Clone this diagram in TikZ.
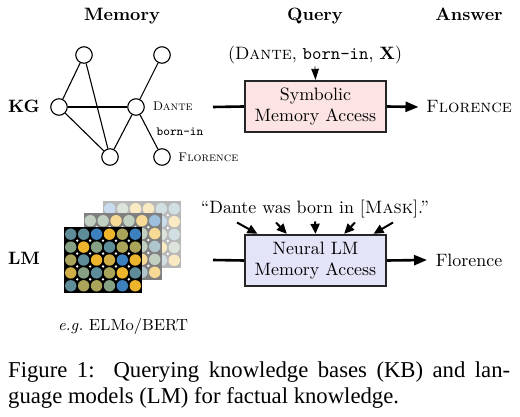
\documentclass[tikz,border=0pt]{standalone}
\usepackage{fontspec}
\usepackage{graphicx}
\newfontfamily\capfont{Liberation Serif}
\usetikzlibrary{arrows.meta,calc}
\definecolor{tl}{HTML}{5E8C99}
\definecolor{bl}{HTML}{3C80BE}
\definecolor{ye}{HTML}{EDB52C}
\definecolor{ol}{HTML}{A9A45A}
\definecolor{sg}{HTML}{85A083}
\definecolor{oy}{HTML}{D0AE45}
\definecolor{symfill}{HTML}{FCE4E4}
\definecolor{neufill}{HTML}{E4E4F9}
\newcommand\lmgrid[4]{%
  \fill[black!#3!white] (#1pt,-#2pt) rectangle ++(78pt,-66pt);
  \foreach \c [count=\k from 0] in {#4} {
    \pgfmathtruncatemacro\gi{mod(\k,6)}
    \pgfmathtruncatemacro\gj{div(\k,6)}
    \fill[\c!#3!white] ({#1pt+6.75pt+12.9pt*\gi},{-#2pt-7.2pt-12.9pt*\gj}) circle[radius=5.7pt];
  }
  \foreach \gi in {0,...,4} {
    \foreach \gj in {0,...,3} {
      \fill[white] ({#1pt+13.2pt+12.9pt*\gi},{-#2pt-13.65pt-12.9pt*\gj}) circle[radius=1.3pt];
    }
  }
}
\tikzset{
  txt/.style={scale=1.79, inner sep=0pt},
  head/.style={txt, font=\bfseries, anchor=base},
  gnode/.style={circle, draw, line width=1.1pt, minimum size=16.5pt, inner sep=0pt},
  gedge/.style={line width=1.1pt},
  membox/.style={draw=black!85, line width=1.3pt, scale=1.79, minimum width=78.77pt, minimum height=28.49pt, align=center, inner sep=0pt},
  thickline/.style={line width=2.6pt},
  outarrow/.style={line width=2.6pt, -{Triangle[width=10pt,length=13pt]}},
  qarrow/.style={line width=0.8pt, -{Triangle[width=7.5pt,length=11pt]}},
  larrow/.style={line width=2pt, -{Triangle[width=9pt,length=10pt]}},
}
\begin{document}
\begin{tikzpicture}[x=1pt,y=-1pt]
\useasboundingbox (0,0) rectangle (520,417);
% headings
\node[head] (hmem) at (122,20.7) {Memory};
\node[head] (hqry) at (315,20.7) {Query};
\node[head] (hans) at (469,20.7) {Answer};
\node[head] (kg) at (24,112.7) {KG};
\node[head] (lm) at (24,265) {LM};
% knowledge graph
\node[gnode] (ga) at (84,55) {};
\node[gnode] (gb) at (162,55) {};
\node[gnode] (gc) at (59,107) {};
\node[gnode] (gd) at (136,107) {};
\node[gnode] (ge) at (110,157) {};
\node[gnode] (gf) at (162,157) {};
\draw[gedge] (ga) -- (gc);
\draw[gedge] (ga) -- (ge);
\draw[gedge] (gc) -- (gd);
\draw[gedge] (gc) -- (ge);
\draw[gedge] (gd) -- (ge);
\draw[gedge] (gd) -- (gb);
\draw[gedge] (gd) -- (gf);
\node[txt, anchor=base west, font=\scriptsize] (ldante) at (152.5,110.7) {\textsc{Dante}};
\node[txt, anchor=base, font=\scriptsize] (lborn) at (180,136) {\texttt{born-in}};
\node[txt, anchor=base west, font=\scriptsize] (lflor) at (178,161.3) {\textsc{Florence}};
% symbolic row
\node[membox, fill=symfill] (sym) at (315.5,106.5) {Symbolic\\Memory Access};
\node[txt, anchor=base] (query) at (315,60) {(\textsc{Dante}, \texttt{born-in}, \textbf{X})};
\coordinate (kgin) at (213,107);
\coordinate (kgout) at (418.5,107);
\draw[thickline] (kgin) -- (sym.west);
\draw[outarrow] (sym.east) -- (kgout);
\draw[qarrow] (query.south |- 0,66.5) -- (sym.north);
\node[txt, anchor=base] (ans1) at (469,112.7) {\textsc{Florence}};
% LM row
\lmgrid{103}{201.5}{28}{bl,sg,ye,ye,tl,tl,sg,tl,sg,ol,bl,ye,ol,bl,ye,tl,sg,tl,ye,sg,tl,ol,ye,sg,sg,ol,bl,sg,tl,ye}
\lmgrid{83.5}{213.5}{50}{sg,sg,ye,sg,ye,bl,tl,ol,sg,ye,sg,ye,ol,bl,ye,tl,sg,tl,ye,sg,tl,ol,ye,sg,sg,ol,bl,sg,tl,ye}
\lmgrid{64}{227}{100}{tl,tl,bl,ye,ol,bl,sg,ye,sg,tl,ol,ol,ol,tl,ye,oy,bl,ye,oy,sg,tl,ol,ye,tl,tl,ol,ol,sg,bl,ye}
\node[txt, anchor=base, font=\small] (elmo) at (123,330.7) {\textit{e.g.}\ ELMo/BERT};
\node[membox, fill=neufill] (neu) at (315.5,260.5) {Neural LM\\Memory Access};
\node[txt, anchor=base] (quote) at (315,213.3) {``Dante was born in [\textsc{Mask}].''};
\coordinate (lmin) at (213,260);
\coordinate (lmout) at (427,260);
\draw[thickline] (lmin) -- (neu.west);
\draw[outarrow] (neu.east) -- (lmout);
\coordinate (s1) at (237,222.5);
\coordinate (s2) at (276,222.5);
\coordinate (s3) at (315,221.5);
\coordinate (s4) at (355,222.5);
\coordinate (s5) at (393,222.5);
\draw[larrow] (s1) -- ($(neu.north west)!0.095!(neu.north east)$);
\draw[larrow] (s2) -- ($(neu.north west)!0.3!(neu.north east)$);
\draw[larrow] (s3) -- ($(neu.north west)!0.5!(neu.north east)$);
\draw[larrow] (s4) -- ($(neu.north west)!0.7!(neu.north east)$);
\draw[larrow] (s5) -- ($(neu.north west)!0.905!(neu.north east)$);
\node[txt, anchor=base] (ans2) at (469,266) {Florence};
% caption
\node[anchor=base west, inner sep=0pt, font=\capfont\fontsize{22.7}{26}\selectfont] (cap1) at (8,377) {\makebox[502pt][s]{Figure 1:\ \ Querying knowledge bases (KB) and lan-}};
\node[anchor=base west, inner sep=0pt, font=\capfont\fontsize{22.7}{26}\selectfont] (cap2) at (8,403) {guage models (LM) for factual knowledge.};
\end{tikzpicture}
\end{document}
